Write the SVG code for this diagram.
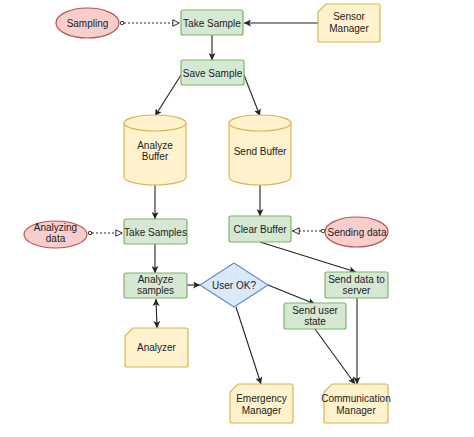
<svg xmlns="http://www.w3.org/2000/svg" width="474" height="437" viewBox="0 0 474 437">
<style>
text{font-family:"Liberation Sans",Arial,sans-serif;font-size:10px;fill:#222;text-anchor:middle}
.g{fill:#d5e8d4;stroke:#82b366;stroke-width:1.2}
.y{fill:#fff2cc;stroke:#d6b656;stroke-width:1.2}
.r{fill:#f8cecc;stroke:#b85450;stroke-width:1.2}
.b{fill:#dae8fc;stroke:#6c8ebf;stroke-width:1.2}
.e{fill:none;stroke:#222;stroke-width:1.1}
.d{fill:none;stroke:#222;stroke-width:1;stroke-dasharray:2,2}
</style>
<defs>
<marker id="a" viewBox="0 0 10 10" refX="10" refY="5" markerWidth="7" markerHeight="7" orient="auto" markerUnits="userSpaceOnUse"><path d="M0,0 L10,5 L0,10 L2.5,5 Z" fill="#222"/></marker>
<marker id="as" viewBox="0 0 10 10" refX="0" refY="5" markerWidth="7" markerHeight="7" orient="auto" markerUnits="userSpaceOnUse"><path d="M10,0 L0,5 L10,10 L7.5,5 Z" fill="#222"/></marker>
<marker id="t" viewBox="0 0 10 10" refX="10" refY="5" markerWidth="8" markerHeight="8" orient="auto" markerUnits="userSpaceOnUse"><path d="M1,1 L9,5 L1,9 Z" fill="#fff" stroke="#222" stroke-width="1.2"/></marker>
<marker id="c" viewBox="0 0 10 10" refX="1" refY="5" markerWidth="5" markerHeight="5" orient="auto" markerUnits="userSpaceOnUse"><circle cx="5" cy="5" r="3.5" fill="#fff" stroke="#222" stroke-width="1.8"/></marker>
</defs>
<g id="connectors">
<line class="d" x1="120" y1="23" x2="180" y2="23" marker-start="url(#c)" marker-end="url(#t)"/>
<line class="e" x1="318" y1="23" x2="244" y2="23" marker-end="url(#a)"/>
<line class="e" x1="212" y1="35" x2="212" y2="60" marker-end="url(#a)"/>
<line class="e" x1="181" y1="75" x2="155" y2="116" marker-end="url(#a)"/>
<line class="e" x1="244" y1="75" x2="260" y2="116" marker-end="url(#a)"/>
<line class="e" x1="155" y1="185" x2="155" y2="219" marker-end="url(#a)"/>
<line class="e" x1="260" y1="185" x2="260" y2="216" marker-end="url(#a)"/>
<line class="d" x1="88" y1="233" x2="123" y2="233" marker-start="url(#c)" marker-end="url(#t)"/>
<line class="d" x1="325" y1="231" x2="292" y2="231" marker-start="url(#c)" marker-end="url(#t)"/>
<line class="e" x1="155" y1="244" x2="155" y2="273" marker-end="url(#a)"/>
<line class="e" x1="187" y1="285" x2="200" y2="285" marker-end="url(#a)"/>
<line class="e" x1="268" y1="285" x2="315" y2="304" marker-end="url(#a)"/>
<line class="e" x1="236" y1="307" x2="261" y2="384" marker-end="url(#a)"/>
<line class="e" x1="260" y1="242" x2="356" y2="272" marker-end="url(#a)"/>
<line class="e" x1="357" y1="298" x2="357" y2="384" marker-end="url(#a)"/>
<line class="e" x1="315" y1="329" x2="355" y2="384" marker-end="url(#a)"/>
<line class="e" x1="156" y1="299" x2="157" y2="328" marker-start="url(#as)" marker-end="url(#a)"/>
</g>
<g id="sampling"><ellipse class="r" cx="87.5" cy="23" rx="31.5" ry="15"/><text x="87.5" y="26.5">Sampling</text></g>
<g id="take-sample"><rect class="g" x="181" y="10" width="62" height="25" rx="2"/><text x="212" y="26.5">Take Sample</text></g>
<g id="sensor-manager"><path class="y" d="M326,4 H378 Q380,4 380,6 V40 Q380,42 378,42 H320 Q318,42 318,40 V12 Z"/><text x="349" y="20">Sensor</text><text x="349" y="32">Manager</text></g>
<g id="save-sample"><rect class="g" x="181" y="60" width="63" height="25" rx="2"/><text x="212.5" y="76.5">Save Sample</text></g>
<g id="analyze-buffer"><path class="y" d="M124,123 A31,8 0 0 1 186,123 V177 A31,8 0 0 1 124,177 Z"/><path class="y" d="M124,123 A31,8 0 0 0 186,123" fill="none"/><text x="155" y="149">Analyze</text><text x="155" y="160">Buffer</text></g>
<g id="send-buffer"><path class="y" d="M229,123 A31,8 0 0 1 291,123 V177 A31,8 0 0 1 229,177 Z"/><path class="y" d="M229,123 A31,8 0 0 0 291,123" fill="none"/><text x="260" y="155">Send Buffer</text></g>
<g id="analyzing-data"><ellipse class="r" cx="55.5" cy="234.5" rx="31.5" ry="13.5"/><text x="55.5" y="231">Analyzing</text><text x="55.5" y="242">data</text></g>
<g id="take-samples"><rect class="g" x="124" y="219" width="63" height="25" rx="2"/><text x="155.5" y="236">Take Samples</text></g>
<g id="clear-buffer"><rect class="g" x="229" y="216" width="62" height="26" rx="2"/><text x="260" y="233">Clear Buffer</text></g>
<g id="sending-data"><ellipse class="r" cx="356.5" cy="232" rx="31.5" ry="15"/><text x="357" y="235.5">Sending data</text></g>
<g id="analyze-samples"><rect class="g" x="124" y="273" width="63" height="25" rx="2"/><text x="155.5" y="283">Analyze</text><text x="155.5" y="294">samples</text></g>
<g id="user-ok"><path class="b" d="M234,263 L268,285 L234,307 L200,285 Z"/><text x="234" y="289">User OK?</text></g>
<g id="send-data-server"><rect class="g" x="325" y="272" width="63" height="26" rx="2"/><text x="356.5" y="283">Send data to</text><text x="356.5" y="294">server</text></g>
<g id="send-user-state"><rect class="g" x="284" y="303" width="62" height="26" rx="2"/><text x="315" y="314">Send user</text><text x="315" y="325">state</text></g>
<g id="analyzer"><path class="y" d="M133,328 H186 Q188,328 188,330 V365 Q188,367 186,367 H127 Q125,367 125,365 V336 Z"/><text x="156.5" y="351">Analyzer</text></g>
<g id="emergency-manager"><path class="y" d="M238,384 H291 Q293,384 293,386 V421 Q293,423 291,423 H232 Q230,423 230,421 V392 Z"/><text x="261.5" y="402">Emergency</text><text x="261.5" y="414">Manager</text></g>
<g id="communication-manager"><path class="y" d="M332,384 H386 Q388,384 388,386 V421 Q388,423 386,423 H326 Q324,423 324,421 V392 Z"/><text x="356" y="402">Communication</text><text x="356" y="414">Manager</text></g>
</svg>
